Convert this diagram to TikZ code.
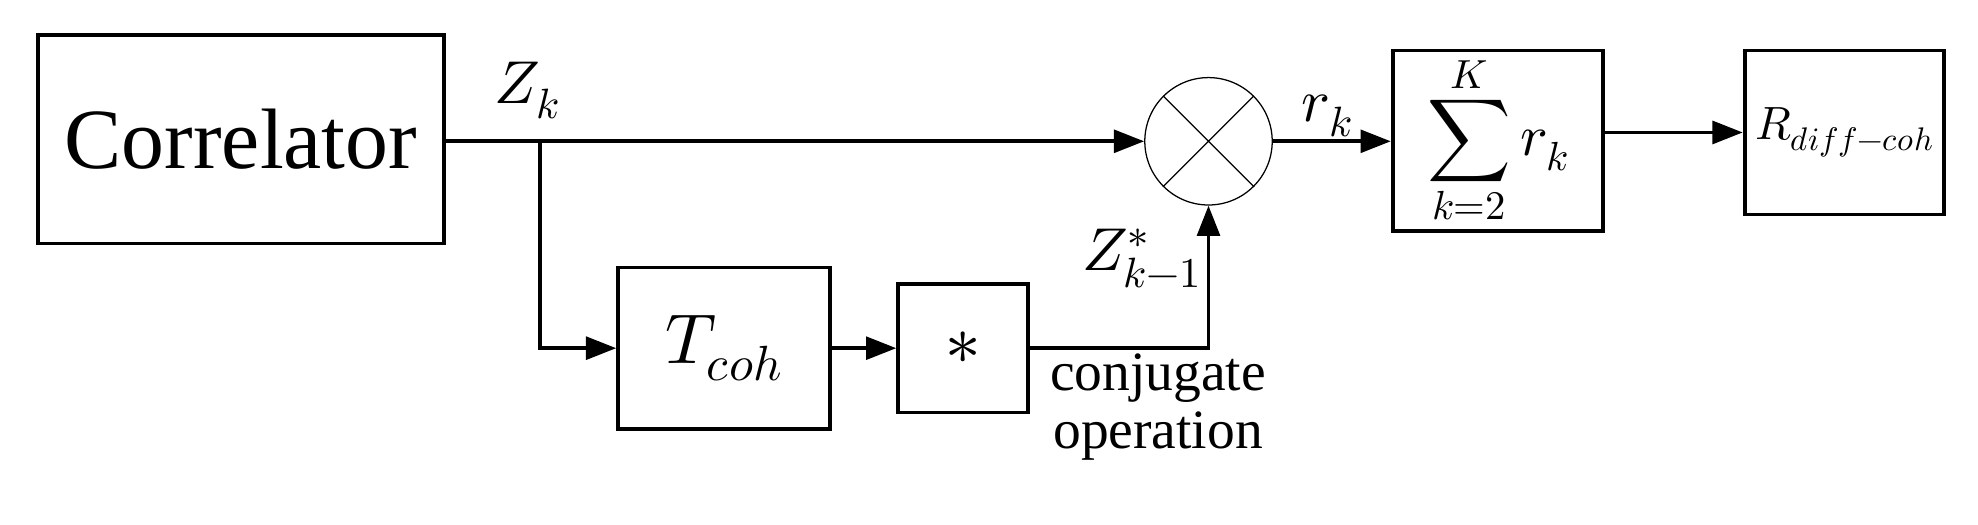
\documentclass[tikz,border=0pt]{standalone}
\usepackage{fontspec}
\setmainfont{Liberation Serif}
\usepackage{unicode-math}
\setmathfont{Latin Modern Math}
\usetikzlibrary{arrows.meta}
\begin{document}
\begin{tikzpicture}[x=1pt,y=-1pt,
  blk/.style={draw,line width=3pt,inner sep=0pt},
  arr/.style={line width=3pt,-{Triangle[length=24pt,width=18pt]}},
  lbl/.style={font=\fontsize{48}{52}\selectfont}]
\useasboundingbox (0,0) rectangle (1568,416);
\node[blk,minimum width=322pt,minimum height=165pt,font=\fontsize{68}{72}\selectfont] (cor) at (191,110.5) {Correlator};
\node[draw,circle,line width=1pt,minimum size=101pt,inner sep=0pt] (mul) at (958,112) {};
\draw[line width=1pt] (mul.45)--(mul.225) (mul.135)--(mul.315);
\node[blk,minimum width=168pt,minimum height=128pt,font=\fontsize{56}{60}\selectfont] (T) at (574,276) {$T_{coh}$};
\node[blk,minimum width=103pt,minimum height=102pt,font=\fontsize{56}{60}\selectfont] (c) at (763.5,276) {$\ast$};
\node[blk,minimum width=167pt,minimum height=143pt,font=\fontsize{46}{50}\selectfont] (S) at (1187.5,111.5) {$\displaystyle\sum_{k=2}^{K} r_k$};
\node[blk,minimum width=158pt,minimum height=130pt,font=\fontsize{37}{40}\selectfont] (R) at (1462,105) {$R_{diff-coh}$};
\coordinate (b) at (428,112);
\coordinate (bd) at (428,276);
\coordinate (cd) at (958,276);
\draw[arr] (cor.east|-b) -- (mul.west);
\draw[arr] (b) -- (bd) -- (T.west);
\draw[arr] (T.east) -- (c.west);
\draw[arr] (c.east) -- (cd) -- (mul.south);
\draw[arr] (mul.east) -- (S.west|-mul);
\draw[arr] (S.east|-R) -- (R.west);
\node[lbl] at (418,72) {$Z_k$};
\node[lbl] at (1052,92) {$r_k$};
\node[lbl] at (905,205) {$Z_{k-1}^{*}$};
\node[font=\fontsize{44}{46}\selectfont,align=center] at (918,323) {conjugate\\operation};
\end{tikzpicture}
\end{document}
